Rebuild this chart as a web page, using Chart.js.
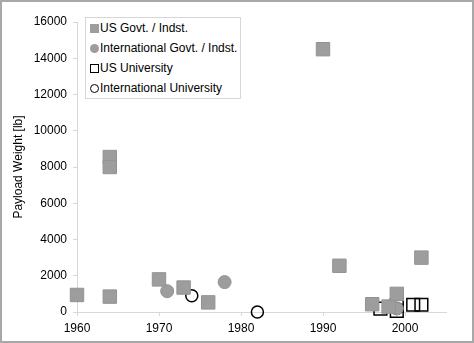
<!DOCTYPE html>
<html>
<head>
<meta charset="utf-8">
<script src="https://cdn.jsdelivr.net/npm/chart.js@4.4.1/dist/chart.umd.min.js"></script>
<style>
  body { margin: 0; background: #fff; }
  #wrap { position: relative; width: 474px; height: 343px; box-sizing: border-box; border: 2px solid #a8a8a8; background: #fff; }
  #chart { display: block; }
  #legend { position: absolute; left: 83px; top: 15px; width: 156px; height: 82px; box-sizing: border-box;
            border: 1px solid #d6d6d6; background: #fff; font: 12px "Liberation Sans", Arial, sans-serif; color: #000; }
  #legend .row { height: 20px; line-height: 20px; position: relative; padding-left: 14px; white-space: nowrap; }
  #legend .mk { position: absolute; left: 4px; top: 6px; width: 9px; height: 9px; box-sizing: border-box; }
</style>
</head>
<body>
<div id="wrap">
  <canvas id="chart" width="470" height="339"></canvas>
  <div id="legend"></div>
</div>
<script>
// payload weight [lb] by launch year
const usGovYears = [1960, 1964, 1964, 1964, 1970, 1973, 1976, 1990, 1992, 1996, 1998, 1999, 2002];
const usGovWeights = [940, 850, 8550, 8000, 1800, 1350, 530, 14500, 2550, 430, 300, 1000, 3000];

const intlGovYears = [1971, 1978, 1999];
const intlGovWeights = [1150, 1650, 200];

const usUnivYears = [1997, 1999, 1999, 2001, 2002];
const usUnivWeights = [180, 380, 60, 400, 400];

const intlUnivYears = [1974, 1982, 1999];
const intlUnivWeights = [900, 0, 200];

const xTicks = [1960, 1970, 1980, 1990, 2000];
const yTicks = [0, 2000, 4000, 6000, 8000, 10000, 12000, 14000, 16000];

const FONT = '"Liberation Sans", Arial, sans-serif';
const GRAY = '#9d9d9d';

function pts(xs, ys) {
  return xs.map((x, i) => ({ x: x, y: ys[i] }));
}

const series = [
  { label: 'US Govt. / Indst.', data: pts(usGovYears, usGovWeights), pointStyle: 'rect', pointRadius: 9.5,
    backgroundColor: GRAY, borderColor: '#939393', borderWidth: 1, css: 'background:#9d9d9d;' },
  { label: 'International Govt. / Indst.', data: pts(intlGovYears, intlGovWeights), pointStyle: 'circle', pointRadius: 6.5,
    backgroundColor: GRAY, borderColor: '#939393', borderWidth: 1, css: 'background:#9d9d9d;border-radius:50%;' },
  { label: 'US University', data: pts(usUnivYears, usUnivWeights), pointStyle: 'rect', pointRadius: 9,
    backgroundColor: 'rgba(0,0,0,0)', borderColor: '#000', borderWidth: 1.5, css: 'border:1.5px solid #000;' },
  { label: 'International University', data: pts(intlUnivYears, intlUnivWeights), pointStyle: 'circle', pointRadius: 6,
    backgroundColor: 'rgba(0,0,0,0)', borderColor: '#000', borderWidth: 1.5, css: 'border:1.5px solid #000;border-radius:50%;' }
];

new Chart(document.getElementById('chart'), {
  type: 'scatter',
  data: {
    datasets: series.map(s => ({
      label: s.label, data: s.data, pointStyle: s.pointStyle, pointRadius: s.pointRadius,
      pointHoverRadius: s.pointRadius, backgroundColor: s.backgroundColor,
      borderColor: s.borderColor, borderWidth: s.borderWidth, clip: false
    }))
  },
  options: {
    responsive: false,
    animation: false,
    layout: { padding: { top: 20, right: 26, bottom: 4, left: 0 } },
    plugins: { legend: { display: false }, tooltip: { enabled: false } },
    scales: {
      x: {
        type: 'linear', min: 1960, max: 2005,
        afterBuildTicks: s => { s.ticks = xTicks.map(v => ({ value: v })); },
        afterFit: s => { s.height = 25; },
        grid: { drawOnChartArea: false, color: '#d8d8d8', tickLength: 4 },
        border: { color: '#d8d8d8' },
        ticks: { color: '#000', font: { family: FONT, size: 12 }, padding: 5, maxRotation: 0, callback: v => String(v) }
      },
      y: {
        min: 0, max: 16000,
        afterBuildTicks: s => { s.ticks = yTicks.map(v => ({ value: v })); },
        afterFit: s => { s.width = 75; },
        grid: { drawOnChartArea: false, color: '#d8d8d8', tickLength: 4 },
        border: { color: '#d8d8d8' },
        ticks: { color: '#000', font: { family: FONT, size: 12 }, padding: 6, callback: v => String(v) },
        title: { display: true, text: 'Payload Weight [lb]', color: '#000',
                 font: { family: FONT, size: 12 }, padding: { top: 9, bottom: 4 } }
      }
    }
  }
});

// legend box inside the plot area
const legend = document.getElementById('legend');
series.forEach(s => {
  const row = document.createElement('div');
  row.className = 'row';
  const mk = document.createElement('span');
  mk.className = 'mk';
  mk.style.cssText = s.css;
  row.appendChild(mk);
  row.appendChild(document.createTextNode(s.label));
  legend.appendChild(row);
});
</script>
</body>
</html>
